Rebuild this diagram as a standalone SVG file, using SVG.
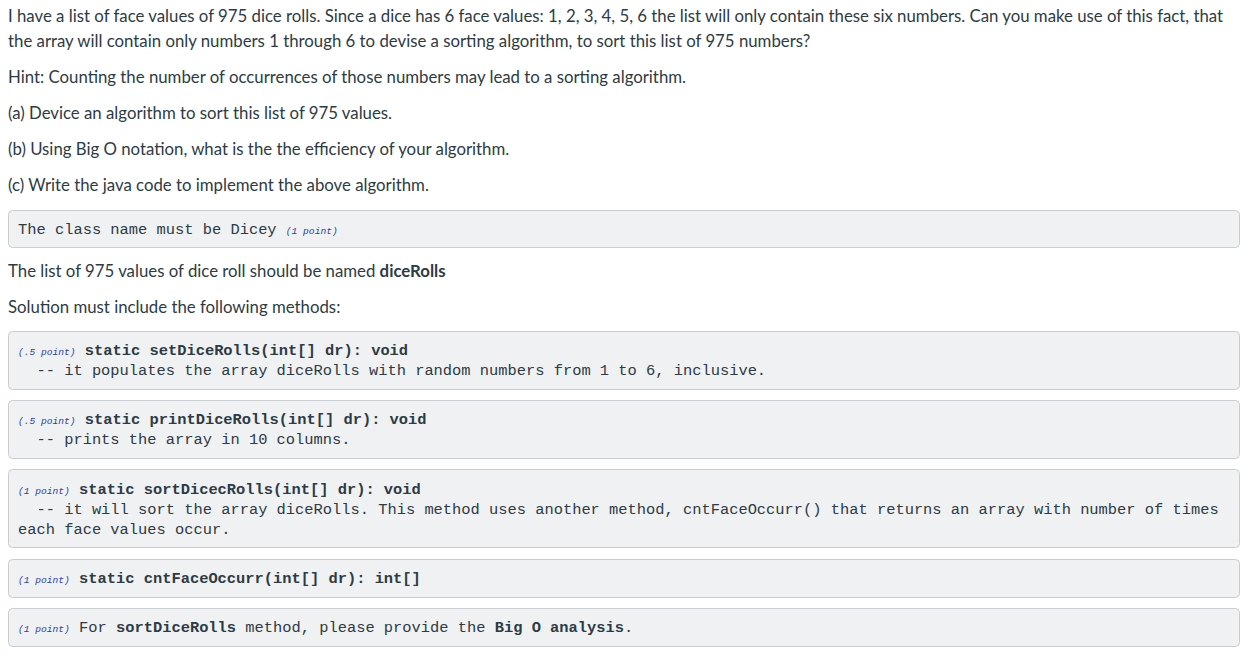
<svg xmlns="http://www.w3.org/2000/svg" width="1245" height="655" viewBox="0 0 1245 655">
<style>
.t{font-family:Lato,"Open Sans",sans-serif;font-size:16.8px;fill:#2d3b45}
.b{fill:#f0f1f3;stroke:#c7cdd1;stroke-width:1}
.m{font-family:"Liberation Mono","DejaVu Sans Mono",monospace;font-size:15.4px;fill:#2d3b45;white-space:pre}
.s{font-weight:bold}
.p{font-size:9.6px;font-style:italic;fill:#2b3fa6}
</style>
<rect width="1245" height="655" fill="#fff"/>
<text class="t" x="8" y="22">I have a list of face values of 975 dice rolls. Since a dice has 6 face values: 1, 2, 3, 4, 5, 6 the list will only contain these six numbers. Can you make use of this fact, that</text>
<text class="t" x="8" y="47">the array will contain only numbers 1 through 6 to devise a sorting algorithm, to sort this list of 975 numbers?</text>
<text class="t" x="8" y="83">Hint: Counting the number of occurrences of those numbers may lead to a sorting algorithm.</text>
<text class="t" x="8" y="119">(a) Device an algorithm to sort this list of 975 values.</text>
<text class="t" x="8" y="155">(b) Using Big O notation, what is the the efficiency of your algorithm.</text>
<text class="t" x="8" y="191">(c) Write the java code to implement the above algorithm.</text>
<g id="box1"><rect class="b" x="8.5" y="210.5" width="1231" height="37" rx="4"/>
<text class="m" x="18" y="234">The class name must be Dicey <tspan class="p">(1 point)</tspan></text></g>
<text class="t" x="8" y="277">The list of 975 values of dice roll should be named <tspan font-weight="bold">diceRolls</tspan></text>
<text class="t" x="8" y="313">Solution must include the following methods:</text>
<g id="box2"><rect class="b" x="8.5" y="331.5" width="1231" height="58" rx="4"/>
<text class="m" x="18" y="355"><tspan class="p">(.5 point)</tspan> <tspan class="s">static setDiceRolls(int[] dr): void</tspan></text>
<text class="m" x="18" y="375">  -- it populates the array diceRolls with random numbers from 1 to 6, inclusive.</text></g>
<g id="box3"><rect class="b" x="8.5" y="400.5" width="1231" height="58" rx="4"/>
<text class="m" x="18" y="424"><tspan class="p">(.5 point)</tspan> <tspan class="s">static printDiceRolls(int[] dr): void</tspan></text>
<text class="m" x="18" y="444">  -- prints the array in 10 columns.</text></g>
<g id="box4"><rect class="b" x="8.5" y="469.5" width="1231" height="78" rx="4"/>
<text class="m" x="18" y="494"><tspan class="p">(1 point)</tspan> <tspan class="s">static sortDicecRolls(int[] dr): void</tspan></text>
<text class="m" x="18" y="514">  -- it will sort the array diceRolls. This method uses another method, cntFaceOccurr() that returns an array with number of times</text>
<text class="m" x="18" y="534">each face values occur.</text></g>
<g id="box5"><rect class="b" x="8.5" y="559.5" width="1231" height="38" rx="4"/>
<text class="m" x="18" y="583"><tspan class="p">(1 point)</tspan> <tspan class="s">static cntFaceOccurr(int[] dr): int[]</tspan></text></g>
<g id="box6"><rect class="b" x="8.5" y="608.5" width="1231" height="38" rx="4"/>
<text class="m" x="18" y="632"><tspan class="p">(1 point)</tspan> For <tspan class="s">sortDiceRolls</tspan> method, please provide the <tspan class="s">Big O analysis</tspan>.</text></g>
</svg>
